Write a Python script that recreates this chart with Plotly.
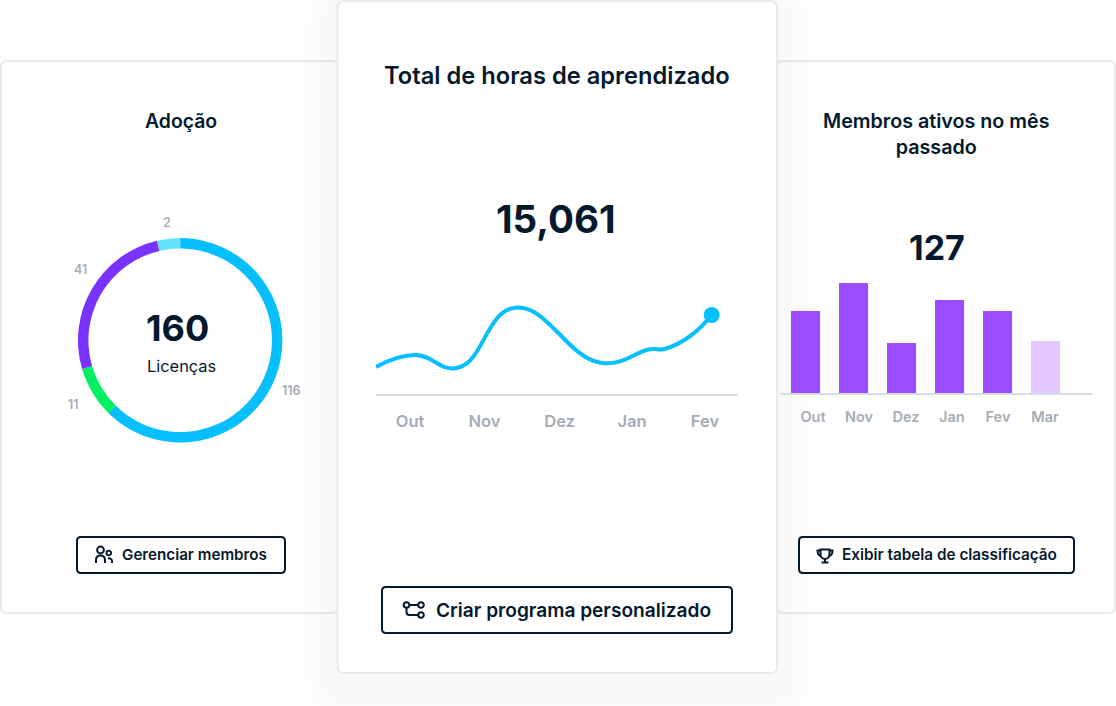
import re
import plotly.graph_objects as go

W, H = 1116, 706
FONT = "Inter"
INK = "#05192d"
GREY = "#a6abb5"

# Donut: printed labels and arc shares
donut_labels = ["116", "11", "41", "2"]
donut_shares = [99.6, 12.9, 41.3, 5.8]
donut_colors = ["#05bfff", "#03ef62", "#7933ff", "#62e4ff"]

# Line chart
line_months = ["Out", "Nov", "Dez", "Jan", "Fev"]
line_month_pos = [0, 1.01, 2.03, 3.01, 4]
line_x = [-0.461, 0.068, 0.66, 1.424, 2.58, 3.25, 3.45, 3.8, 4.09]
line_y = [27, 39, 26.5, 86.3, 31.3, 44.7, 45, 58, 79]

# Bar chart
bar_months = ["Out", "Nov", "Dez", "Jan", "Fev", "Mar"]
bar_values = [82, 110, 50, 93, 82, 52]
bar_colors = ["#9b4dff"] * 5 + ["#e2c8ff"]
bar_label_pos = [0.156, 1.115, 2.094, 3.05, 4.01, 4.99]


def fx(x):
    return x / W


def fy(y):
    return 1 - y / H


def pth(d):
    """Pixel-space SVG path (absolute M/L/C/Q/Z) to paper fractions."""
    out, i = [], 0
    for tok in re.findall(r"[A-Za-z]|-?\d+\.?\d*", d):
        if tok.isalpha():
            out.append(tok)
        else:
            v = float(tok)
            out.append(f"{fx(v):.6f}" if i % 2 == 0 else f"{fy(v):.6f}")
            i += 1
    return " ".join(out)


def rrect(x0, y0, x1, y1, r):
    return pth(
        f"M {x0+r} {y0} L {x1-r} {y0} Q {x1} {y0} {x1} {y0+r} L {x1} {y1-r} Q {x1} {y1} {x1-r} {y1} "
        f"L {x0+r} {y1} Q {x0} {y1} {x0} {y1-r} L {x0} {y0+r} Q {x0} {y0} {x0+r} {y0} Z"
    )


shapes = []


def card(x0, y0, x1, y1, r, color="#e8eaec", w=2):
    shapes.append(dict(type="path", xref="paper", yref="paper", path=rrect(x0, y0, x1, y1, r),
                       fillcolor="white", line=dict(color=color, width=w), layer="below"))


def stroke(d, w=2):
    shapes.append(dict(type="path", xref="paper", yref="paper", path=pth(d),
                       fillcolor="rgba(0,0,0,0)", line=dict(color=INK, width=w), layer="above"))


def circle(cx, cy, r, w=2):
    shapes.append(dict(type="circle", xref="paper", yref="paper", x0=fx(cx - r), x1=fx(cx + r),
                       y0=fy(cy + r), y1=fy(cy - r), line=dict(color=INK, width=w),
                       fillcolor="rgba(0,0,0,0)", layer="above"))


card(1, 61, 338, 613, 6)
card(777, 61, 1115, 613, 6)
# soft shadow of the centre card
for grow in range(6, 48, 6):
    shapes.append(dict(type="path", xref="paper", yref="paper",
                       path=rrect(337 - grow, 1 - grow + 14, 777 + grow, 673 + grow + 14, 8 + grow),
                       fillcolor="rgba(20,30,60,0.0045)", line=dict(width=0), layer="below"))
card(337.5, 1, 777, 673, 7)

# Buttons
for b in [(77, 537, 285, 573), (382, 587, 732, 633), (799, 537, 1074, 573)]:
    shapes.append(dict(type="path", xref="paper", yref="paper", path=rrect(*b, 4),
                       fillcolor="white", line=dict(color=INK, width=2), layer="below"))

# People icon
circle(100.5, 550, 3.4)
circle(108.8, 553, 2.3)
stroke("M 96 563 L 96 560 C 96 557 98 555.5 100.5 555.5 C 103 555.5 105 557 105 560 L 105 563")
stroke("M 108 558.5 C 110 558 112 559 112 561 L 112 563")
# Route icon
circle(406.5, 605, 2.8)
circle(421, 605, 2.8)
circle(421, 615, 2.8)
stroke("M 409.5 605 L 418 605")
stroke("M 406.5 608 L 406.5 612 C 406.5 614 407.5 615 409.5 615 L 418 615")
# Trophy icon
stroke("M 820.5 549.5 L 829.5 549.5 L 829.5 554 C 829.5 557.5 827 559 825 559 C 823 559 820.5 557.5 820.5 554 Z")
stroke("M 820.5 550.5 L 817.5 550.5 C 817.5 553.5 818.5 555.5 821 556")
stroke("M 829.5 550.5 L 832.5 550.5 C 832.5 553.5 831.5 555.5 829 556")
stroke("M 825 559 L 825 562.5")
stroke("M 821.5 562.5 L 828.5 562.5")


def txt(x, y, s, size, weight=600, color=INK):
    return dict(x=fx(x), y=fy(y), xref="paper", yref="paper", text=s, showarrow=False,
                xanchor="center", yanchor="middle",
                font=dict(family=FONT, size=size, weight=weight, color=color))


annotations = [
    txt(181, 121, "Adoção", 19.4),
    txt(556.5, 75.5, "Total de horas de aprendizado", 23.7),
    txt(936.5, 134, "Membros ativos no mês<br>passado", 19.7),
    txt(556, 219, "15,061", 38.5, 700),
    txt(937, 247.5, "127", 34, 700),
    txt(177, 328, "160", 36, 700),
    txt(181.5, 366, "Licenças", 16.4, 400),
    txt(167, 222, donut_labels[3], 12.5, 600, GREY),
    txt(80, 269, donut_labels[2], 12.5, 600, GREY),
    txt(291, 391, donut_labels[0], 12.5, 600, GREY),
    txt(73, 404, donut_labels[1], 12.5, 600, GREY),
    txt(194.5, 554.5, "Gerenciar membros", 15.2),
    txt(573.5, 609.5, "Criar programa personalizado", 19.1),
    txt(949.5, 554.5, "Exibir tabela de classificação", 15.3),
]

fig = go.Figure()
fig.add_trace(go.Pie(values=donut_shares, marker=dict(colors=donut_colors, line=dict(width=0)),
                     sort=False, direction="clockwise", rotation=0, hole=0.898,
                     textinfo="none", hoverinfo="skip",
                     domain=dict(x=[fx(78), fx(282.4)], y=[fy(442.6), fy(238)])))
fig.add_trace(go.Scatter(x=line_x, y=line_y, mode="lines", xaxis="x", yaxis="y", cliponaxis=False,
                         line=dict(color="#05bfff", width=4, shape="spline", smoothing=1.3), hoverinfo="skip"))
fig.add_trace(go.Scatter(x=line_x[-1:], y=line_y[-1:], mode="markers", xaxis="x", yaxis="y", cliponaxis=False,
                         marker=dict(color="#05bfff", size=16), hoverinfo="skip"))
fig.add_trace(go.Bar(x=list(range(len(bar_values))), y=bar_values, width=0.604, xaxis="x2", yaxis="y2",
                     marker=dict(color=bar_colors, line=dict(width=0)), hoverinfo="skip"))

axis_line = "#d8dbe2"
fig.update_layout(
    width=W, height=H, margin=dict(l=0, r=0, t=0, b=0), autosize=False,
    paper_bgcolor="white", plot_bgcolor="rgba(0,0,0,0)", showlegend=False,
    shapes=shapes, annotations=annotations,
    xaxis=dict(domain=[fx(376), fx(738)], range=[-0.461, 4.447], tickvals=line_month_pos, ticktext=line_months,
               showgrid=False, zeroline=False, showline=True, linecolor=axis_line, linewidth=1.5,
               ticks="outside", tickcolor="rgba(0,0,0,0)", ticklen=11,
               tickfont=dict(family=FONT, size=16.5, weight=600, color=GREY), anchor="y"),
    yaxis=dict(domain=[fy(394), fy(280)], range=[0, 114], visible=False, anchor="x"),
    xaxis2=dict(domain=[fx(780), fx(1092)], range=[-0.531, 5.969], tickvals=bar_label_pos, ticktext=bar_months,
                showgrid=False, zeroline=False, showline=True, linecolor=axis_line, linewidth=1.5,
                ticks="outside", tickcolor="rgba(0,0,0,0)", ticklen=10,
                tickfont=dict(family=FONT, size=14.5, weight=600, color=GREY), anchor="y2"),
    yaxis2=dict(domain=[fy(393), fy(280)], range=[0, 113], visible=False, anchor="x2"),
)

fig.write_html("out.html", config=dict(displayModeBar=False),
               post_script="document.body.style.margin='0';document.body.style.overflow='hidden';")
